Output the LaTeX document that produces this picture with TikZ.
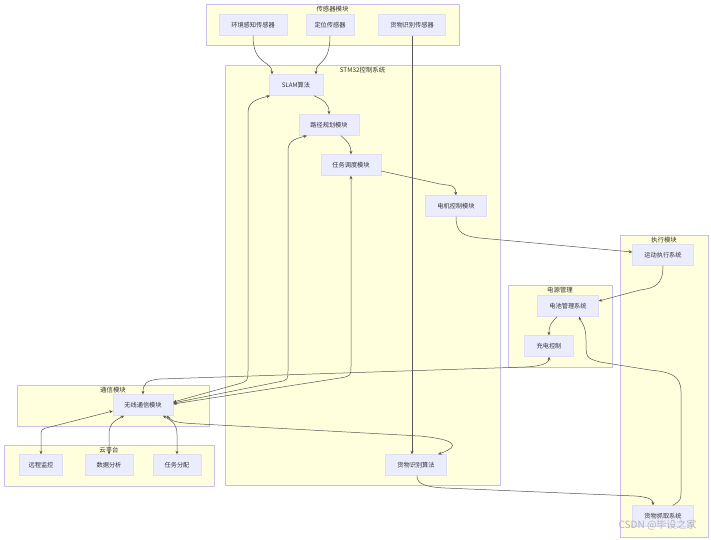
\documentclass[tikz,border=0pt]{standalone}
\usepackage{fontspec}
\setmainfont{Noto Sans CJK SC}
\usetikzlibrary{arrows.meta}
\definecolor{clusterfill}{HTML}{FFFFDE}
\definecolor{clusterline}{HTML}{CBBFEA}
\definecolor{boxfill}{HTML}{ECECFF}
\definecolor{boxline}{HTML}{DEDEF4}
\definecolor{txt}{HTML}{333333}
\definecolor{wirecol}{HTML}{555555}
\begin{document}
\begin{tikzpicture}[x=1pt, y=-1pt,
groupbox/.style={rectangle, draw=clusterline, fill=clusterfill, line width=0.6pt, inner sep=0pt},
modbox/.style={rectangle, draw=boxline, fill=boxfill, line width=0.4pt, minimum width=61pt, minimum height=21pt, inner sep=0pt, text=txt, font=\fontsize{6.2}{7}\selectfont},
grouptitle/.style={text=txt, font=\fontsize{6.4}{7}\selectfont, inner sep=1.5pt},
wire/.style={draw=wirecol, line width=0.5pt},
>={Stealth[length=3.5pt, width=3pt]}]

\useasboundingbox (0,0) rectangle (711,539);

\node (sensor) [groupbox, minimum width=253pt, minimum height=41pt, label={[yshift=-10pt, grouptitle]north:传感器模块}] at (332.5,24.5) {};
\node (stm) [groupbox, minimum width=275pt, minimum height=420pt, label={[yshift=-10pt, grouptitle]north:STM32控制系统}] at (362.5,275) {};
\node (exec) [groupbox, minimum width=88pt, minimum height=302pt, label={[yshift=-10pt, grouptitle]north:执行模块}] at (664,386) {};
\node (power) [groupbox, minimum width=104pt, minimum height=82pt, label={[yshift=-10pt, grouptitle]north:电源管理}] at (560,326) {};
\node (comm) [groupbox, minimum width=192pt, minimum height=41pt, label={[yshift=-10pt, grouptitle]north:通信模块}] at (113,405.5) {};
\node (cloud) [groupbox, minimum width=210pt, minimum height=41pt, label={[yshift=-10pt, grouptitle]north:云平台}] at (109,465.5) {};

\node (env) [modbox, minimum width=68pt] at (253,25) {环境感知传感器};
\node (loc) [modbox, minimum width=48pt] at (330,25) {定位传感器};
\node (gsen) [modbox, minimum width=67pt] at (412,25) {货物识别传感器};

\node (slam) [modbox, minimum width=54pt] at (296,85) {SLAM算法};
\node (path) [modbox, minimum width=60pt] at (329,125) {路径规划模块};
\node (task) [modbox, minimum width=60pt] at (351,165) {任务调度模块};
\node (motor) [modbox] at (456,206) {电机控制模块};
\node (galg) [modbox] at (416,465) {货物识别算法};

\node (move) [modbox] at (663,255) {运动执行系统};
\node (grab) [modbox] at (663,516) {货物抓取系统};

\node (bms) [modbox] at (568,306) {电池管理系统};
\node (chg) [modbox, minimum width=49pt] at (549,346) {充电控制};

\node (wifi) [modbox, minimum width=60pt] at (143,405) {无线通信模块};

\node (remote) [modbox, minimum width=43pt] at (41,465) {远程监控};
\node (data) [modbox, minimum width=48pt] at (109,465) {数据分析};
\node (assign) [modbox, minimum width=48pt] at (177,465) {任务分配};

\draw[wire, ->] (env.south) .. controls (253,66) and (272,60) .. ([xshift=-24pt]slam.north);
\draw[wire, ->] (loc.south) .. controls (330,66) and (316,60) .. ([xshift=20pt]slam.north);
\draw[wire, ->] (gsen.south) -- (gsen.south |- galg.north);

\draw[wire, ->] ([xshift=18pt]slam.south) .. controls (324,100) and (329,104) .. (path.north);
\draw[wire, ->] ([xshift=12pt]path.south) .. controls (348,142) and (351,145) .. (task.north);
\draw[wire, ->] ([yshift=-6pt]task.east) -- (440,184) .. controls (455,186) .. (motor.north);
\draw[wire, ->] (motor.south) .. controls (456,232) and (462,236) .. (480,238) -- ([yshift=3pt]move.west);

\draw[wire, ->] (move.south) .. controls (663,285) and (655,288) .. (640,290) -- ([yshift=5pt]bms.east);
\draw[wire, ->] ([xshift=-11pt]bms.south) .. controls (549,325) and (549,328) .. (chg.north);
\draw[wire, ->] ([xshift=10pt]grab.north) .. controls (681,500) .. (681,490) -- (681,392) .. controls (681,375) and (670,372) .. (650,370) -- (600,362) .. controls (586,358) .. (586,340) .. controls (586,325) and (581,322) .. ([xshift=11pt]bms.south);
\draw[wire, ->] ([xshift=1pt]galg.south) .. controls (417,484) and (425,487) .. (445,488) -- (635,496) .. controls (650,497) and (653,500) .. ([xshift=-10pt]grab.north);

\draw[wire, <->] ([yshift=-6pt]wifi.west) -- (50,427) .. controls (41,429) .. (41,438) -- (remote.north);
\draw[wire, <->] ([xshift=-19pt]wifi.south) .. controls (112,422) and (109,425) .. (109,435) -- (data.north);
\draw[wire, <->] ([xshift=20pt]wifi.south) .. controls (174,422) and (177,425) .. (177,435) -- (assign.north);
\draw[wire, <->] ([xshift=24pt]wifi.south) .. controls (172,422) and (180,423) .. (200,424) -- (420,436) .. controls (470,441) and (450,450) .. ([xshift=22pt]galg.north);

\draw[wire, <->] ([yshift=3pt]wifi.east) -- (238,384) .. controls (248,381) .. (248,370) -- (248,112) .. controls (248,100) and (262,98) .. ([xshift=-26pt]slam.south);
\draw[wire, <->] ([yshift=2pt]wifi.east) -- (278,382) .. controls (288,380) .. (288,370) -- (288,150) .. controls (288,140) and (298,138) .. ([xshift=-22pt]path.south);
\draw[wire, <->] ([yshift=1pt]wifi.east) -- (340,378) .. controls (351,376) .. (351,366) -- (task.south);
\draw[wire, <->] (wifi.north) .. controls (143,384) and (146,380) .. (160,379) -- (525,367) .. controls (545,366) and (549,362) .. (chg.south);

\node (mark) [text=black!30, font=\fontsize{10}{11}\selectfont, anchor=east] at (700,525) {CSDN @毕设之家};

\end{tikzpicture}
\end{document}
